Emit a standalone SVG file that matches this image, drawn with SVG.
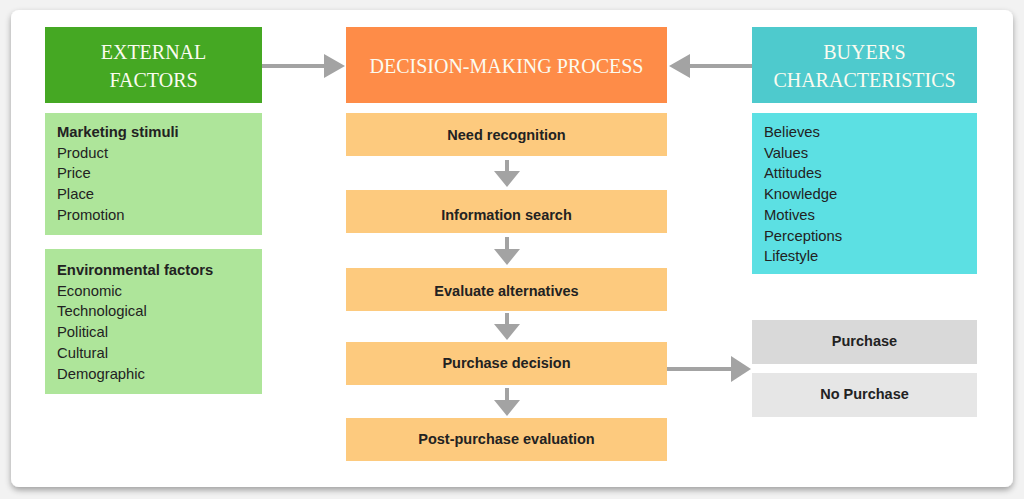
<svg xmlns="http://www.w3.org/2000/svg" width="1024" height="499" viewBox="0 0 1024 499">
<defs>
<filter id="sh" x="-5%" y="-5%" width="110%" height="115%">
<feGaussianBlur in="SourceAlpha" stdDeviation="3"/>
<feOffset dy="3"/>
<feComponentTransfer><feFuncA type="linear" slope="0.35"/></feComponentTransfer>
<feMerge><feMergeNode/><feMergeNode in="SourceGraphic"/></feMerge>
</filter>
</defs>
<style>
.title{font-family:"Liberation Serif","DejaVu Serif",serif;font-size:20px;fill:#fbfbf0;text-anchor:middle}
.lst{font-family:"Liberation Sans",Arial,sans-serif;font-size:14.8px;fill:#222}
.b{font-weight:bold}
.step{font-family:"Liberation Sans",Arial,sans-serif;font-size:14.5px;font-weight:bold;fill:#222;text-anchor:middle}
.stepbox{fill:#fdca7e}
.conn{stroke:#a3a3a3;stroke-width:4;fill:none}
.head{fill:#a3a3a3}
</style>
<rect width="1024" height="499" fill="#f2f2f2"/>
<rect x="11" y="10" width="1002" height="477" rx="8" fill="#fff" filter="url(#sh)"/>

<g id="external">
<rect x="45" y="27" width="217" height="76" fill="#45a823"/>
<text class="title" x="153.5" y="59">EXTERNAL</text>
<text class="title" x="153.5" y="87">FACTORS</text>
</g>
<g id="decision">
<rect x="346" y="27" width="321" height="76" fill="#fe8c48"/>
<text class="title" x="506.5" y="73">DECISION-MAKING PROCESS</text>
</g>
<g id="buyer">
<rect x="752" y="27" width="225" height="76" fill="#4ecacd"/>
<text class="title" x="864.5" y="59">BUYER'S</text>
<text class="title" x="864.5" y="87">CHARACTERISTICS</text>
</g>

<g id="marketing">
<rect x="45" y="113" width="217" height="122" fill="#aee59a"/>
<text class="lst" x="57" y="137"><tspan class="b">Marketing stimuli</tspan><tspan x="57" dy="20.7">Product</tspan><tspan x="57" dy="20.7">Price</tspan><tspan x="57" dy="20.7">Place</tspan><tspan x="57" dy="20.7">Promotion</tspan></text>
</g>
<g id="environmental">
<rect x="45" y="249" width="217" height="145" fill="#aee59a"/>
<text class="lst" x="57" y="275"><tspan class="b">Environmental factors</tspan><tspan x="57" dy="20.7">Economic</tspan><tspan x="57" dy="20.7">Technological</tspan><tspan x="57" dy="20.7">Political</tspan><tspan x="57" dy="20.7">Cultural</tspan><tspan x="57" dy="20.7">Demographic</tspan></text>
</g>
<g id="buyerlist">
<rect x="752" y="113" width="225" height="161" fill="#5ce0e3"/>
<text class="lst" x="764" y="137"><tspan>Believes</tspan><tspan x="764" dy="20.7">Values</tspan><tspan x="764" dy="20.7">Attitudes</tspan><tspan x="764" dy="20.7">Knowledge</tspan><tspan x="764" dy="20.7">Motives</tspan><tspan x="764" dy="20.7">Perceptions</tspan><tspan x="764" dy="20.7">Lifestyle</tspan></text>
</g>

<g id="step1"><rect class="stepbox" x="346" y="113" width="321" height="43"/><text class="step" x="506.5" y="140">Need recognition</text></g>
<g id="step2"><rect class="stepbox" x="346" y="190" width="321" height="43"/><text class="step" x="506.5" y="220">Information search</text></g>
<g id="step3"><rect class="stepbox" x="346" y="268" width="321" height="43"/><text class="step" x="506.5" y="296">Evaluate alternatives</text></g>
<g id="step4"><rect class="stepbox" x="346" y="342" width="321" height="43"/><text class="step" x="506.5" y="368">Purchase decision</text></g>
<g id="step5"><rect class="stepbox" x="346" y="418" width="321" height="43"/><text class="step" x="506.5" y="444">Post-purchase evaluation</text></g>

<g id="purchase"><rect x="752" y="320" width="225" height="44" fill="#d9d9d9"/><text class="step" x="864.5" y="346">Purchase</text></g>
<g id="nopurchase"><rect x="752" y="373" width="225" height="44" fill="#e6e6e6"/><text class="step" x="864.5" y="399">No Purchase</text></g>

<g id="connectors">
<line class="conn" x1="262" y1="66" x2="326" y2="66"/>
<path class="head" d="M324,54 L345,66 L324,78 z"/>
<line class="conn" x1="752" y1="66" x2="688" y2="66"/>
<path class="head" d="M690,54 L669,66 L690,78 z"/>
<line class="conn" x1="507" y1="160" x2="507" y2="172"/>
<path class="head" d="M494,171 L520,171 L507,187 z"/>
<line class="conn" x1="507" y1="237" x2="507" y2="250"/>
<path class="head" d="M494,249 L520,249 L507,265 z"/>
<line class="conn" x1="507" y1="313" x2="507" y2="325"/>
<path class="head" d="M494,324 L520,324 L507,340 z"/>
<line class="conn" x1="507" y1="388" x2="507" y2="401"/>
<path class="head" d="M494,400 L520,400 L507,416 z"/>
<line class="conn" x1="667" y1="369" x2="733" y2="369"/>
<path class="head" d="M731,356 L751,369 L731,382 z"/>
</g>
</svg>
